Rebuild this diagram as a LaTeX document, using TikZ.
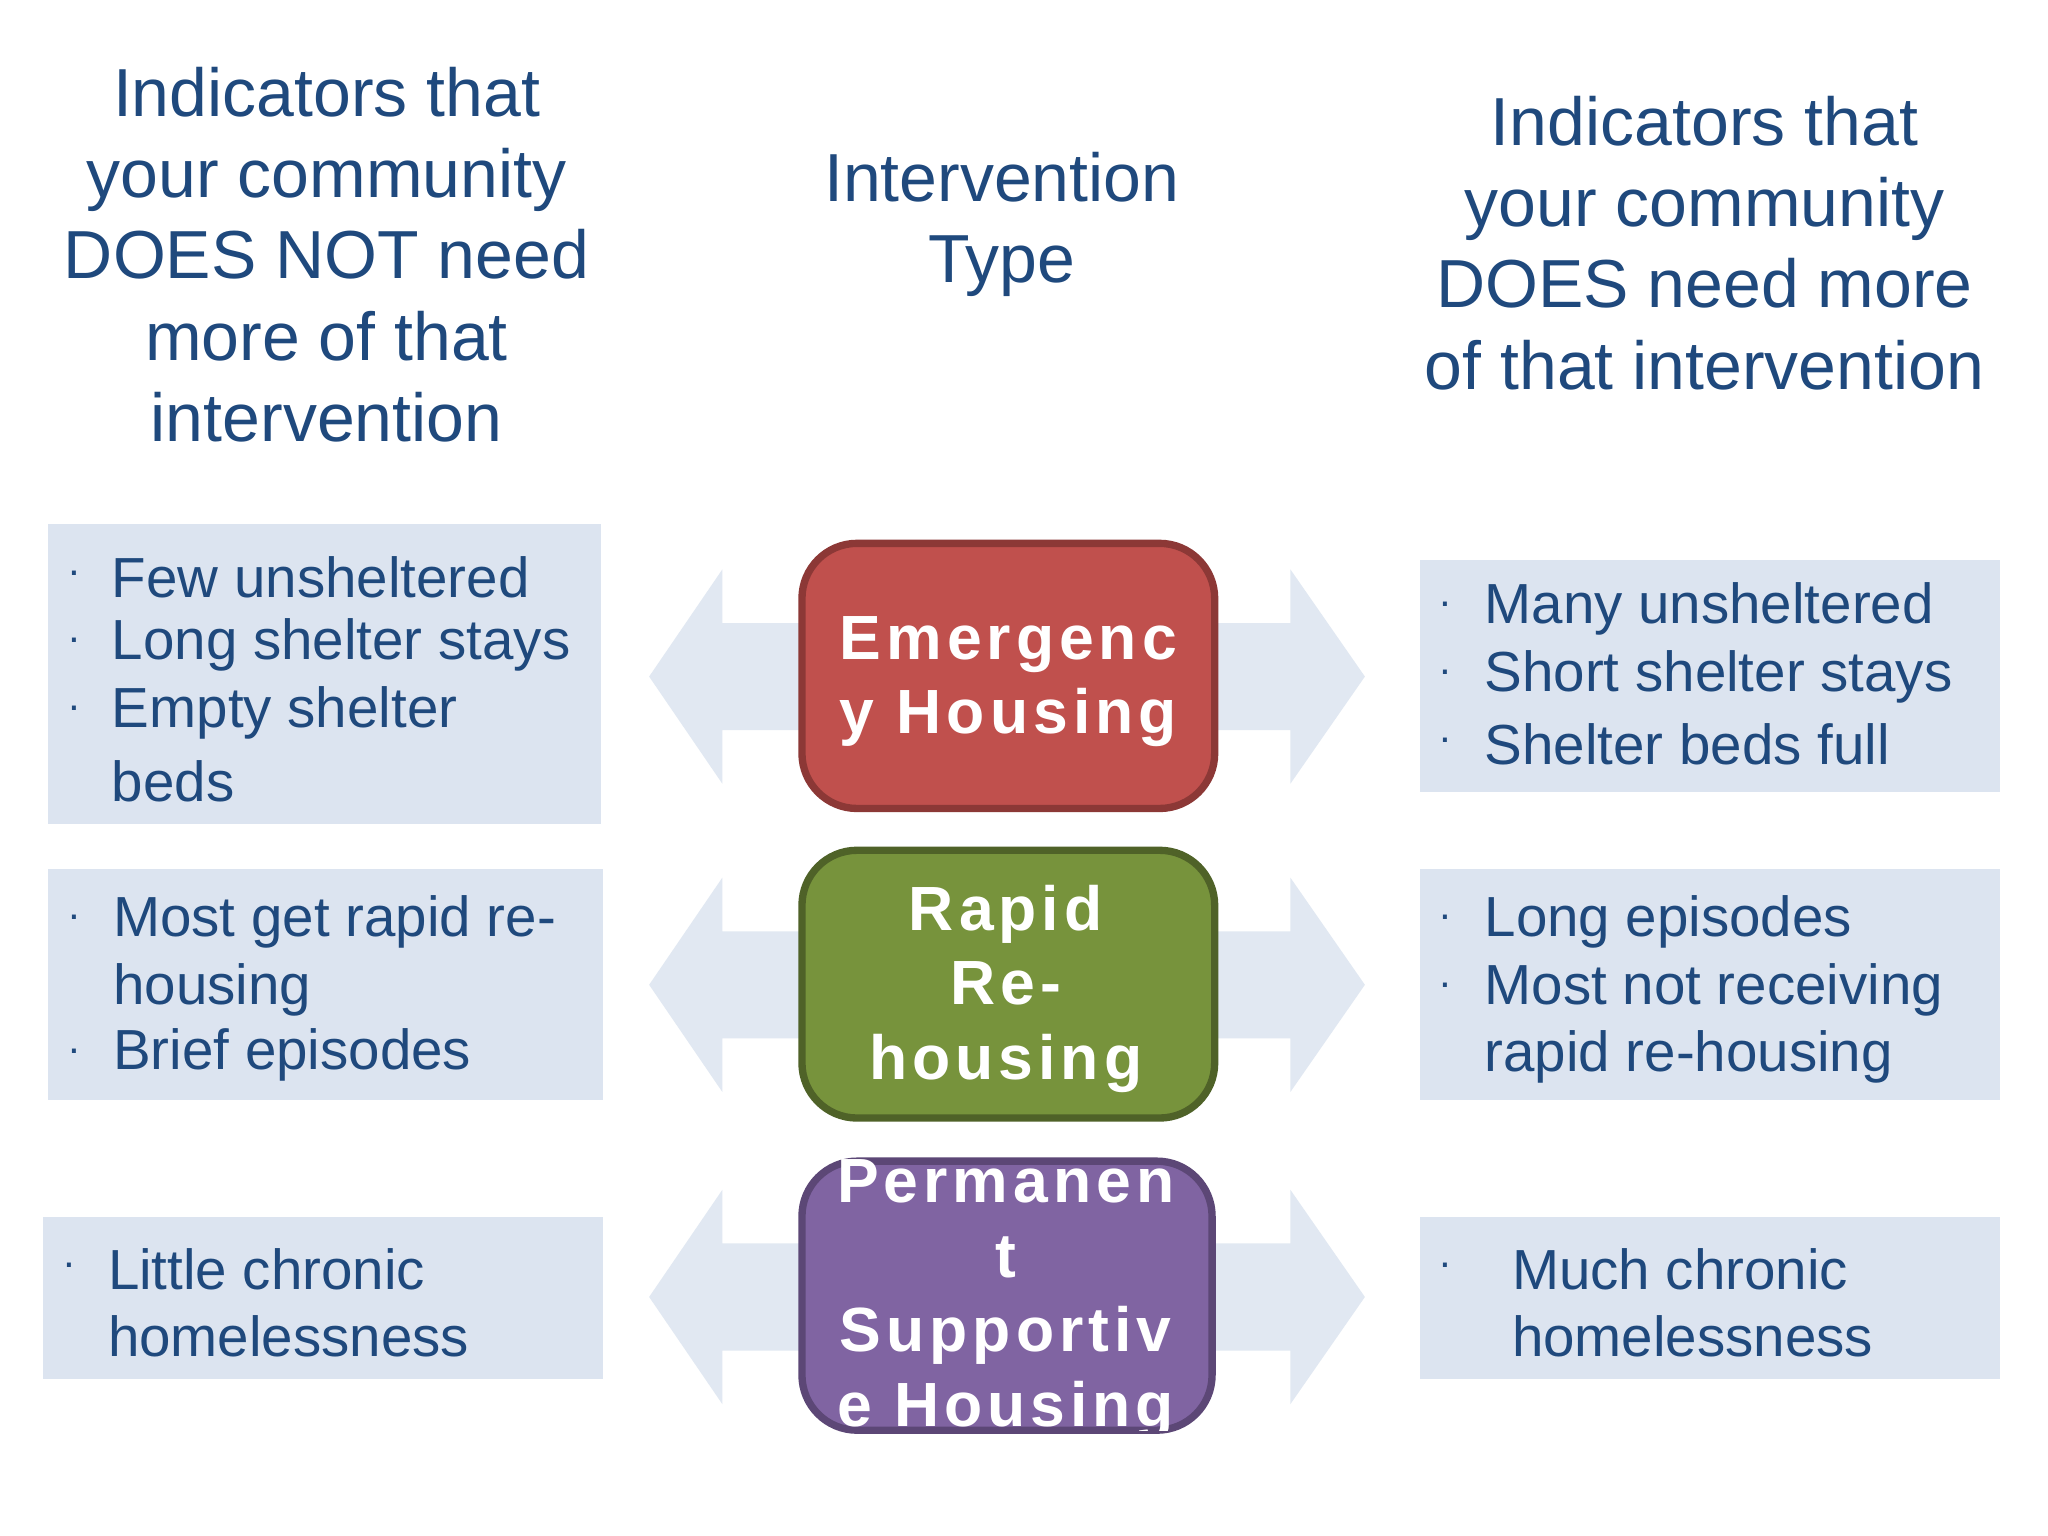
\documentclass[tikz,border=0pt]{standalone}
\usepackage{fontspec}
\setmainfont{Liberation Sans}
\newfontfamily\boxfont[LetterSpace=8]{Liberation Sans Bold}
\begin{document}
\begin{tikzpicture}[x=0.01cm,y=-0.01cm,
  hdr/.style={text=hdrblue,font=\fontsize{14.8}{17.7}\selectfont,align=center},
  panel/.style={fill=panelblue,draw=none},
  itm/.style={text=hdrblue,font=\fontsize{12.3}{14.8}\selectfont,anchor=west,inner sep=0},
  dot/.style={text=hdrblue,font=\fontsize{9}{10}\selectfont,inner sep=0},
  cbox/.style={rounded corners=12,line width=1.6pt},
  ctext/.style={text=white,font=\boxfont\fontsize{13.6}{16.2}\selectfont,align=center},
  arr/.style={fill=arrowblue,draw=none}]
\definecolor{hdrblue}{HTML}{1F497D}
\definecolor{panelblue}{HTML}{DCE4F0}
\definecolor{arrowblue}{HTML}{E1E8F2}
\definecolor{redf}{HTML}{C0504D}\definecolor{redd}{HTML}{8C3836}
\definecolor{grnf}{HTML}{77933C}\definecolor{grnd}{HTML}{4F6228}
\definecolor{purf}{HTML}{8064A2}\definecolor{purd}{HTML}{5C4776}
\path[use as bounding box,fill=white] (0,0) rectangle (1568,1176);
% headers
\node[hdr] (hl) at (250,195) {Indicators that\\your community\\DOES NOT need\\more of that\\intervention};
\node[hdr] (hm) at (767,172) {Intervention\\Type};
\node[hdr] (hr) at (1305,186) {Indicators that\\your community\\DOES need more\\of that intervention};
% arrows
\foreach \c/\n in {518/a,754/b,993/c}{
  \fill[arr] (497,\c) -- (553,\c-82) -- (553,\c-41) -- (620,\c-41) -- (620,\c+41) -- (553,\c+41) -- (553,\c+82) -- cycle;
  \fill[arr] (1045,\c) -- (988,\c-82) -- (988,\c-41) -- (925,\c-41) -- (925,\c+41) -- (988,\c+41) -- (988,\c+82) -- cycle;
}
% panels
\fill[panel] (37,401) rectangle (460,631);
\fill[panel] (37,665) rectangle (462,842);
\fill[panel] (33,932) rectangle (462,1056);
\fill[panel] (1087,429) rectangle (1531,606);
\fill[panel] (1087,665) rectangle (1531,842);
\fill[panel] (1087,932) rectangle (1531,1056);
% left items
\node[dot] (d1) at (57,442) {·}; \node[itm] (t1) at (85,442) {Few unsheltered};
\node[dot] (d2) at (57,494) {·}; \node[itm] (t2) at (85,494) {Long shelter stays};
\node[dot] (d3) at (57,546) {·}; \node[itm] (t3) at (85,546) {Empty shelter};
\node[itm] (t3b) at (85,598) {beds};
\node[dot] (d4) at (57,706) {·}; \node[itm] (t4) at (86,706) {Most get rapid re-};
\node[itm] (t4b) at (86,758) {housing};
\node[dot] (d5) at (57,808) {·}; \node[itm] (t5) at (86,808) {Brief episodes};
\node[dot] (d6) at (53,972) {·}; \node[itm] (t6) at (82,972) {Little chronic};
\node[itm] (t6b) at (82,1023) {homelessness};
% right items
\node[dot] (e1) at (1107,466) {·}; \node[itm] (r1) at (1136,466) {Many unsheltered};
\node[dot] (e2) at (1107,518) {·}; \node[itm] (r2) at (1136,518) {Short shelter stays};
\node[dot] (e3) at (1107,570) {·}; \node[itm] (r3) at (1136,570) {Shelter beds full};
\node[dot] (e4) at (1107,706) {·}; \node[itm] (r4) at (1136,706) {Long episodes};
\node[dot] (e5) at (1107,758) {·}; \node[itm] (r5) at (1136,758) {Most not receiving};
\node[itm] (r5b) at (1136,809) {rapid re-housing};
\node[dot] (e6) at (1107,972) {·}; \node[itm] (r6) at (1157,972) {Much chronic};
\node[itm] (r6b) at (1157,1023) {homelessness};
% center boxes
\draw[cbox,fill=redf,draw=redd] (614,416) rectangle (930,619);
\node[ctext] (eh) at (772,522) {Emergenc\\y Housing};
\draw[cbox,fill=grnf,draw=grnd] (614,651) rectangle (930,856);
\node[ctext] (rr) at (770,757) {Rapid\\Re-\\housing};
\draw[cbox,fill=purf,draw=purd] (614,889) rectangle (928,1095);
\begin{scope}
\clip (500,850) rectangle (1000,1095);
\node[ctext] (ps) at (770,995) {Permanen\\t\\Supportiv\\e Housing};
\end{scope}
\end{tikzpicture}
\end{document}
